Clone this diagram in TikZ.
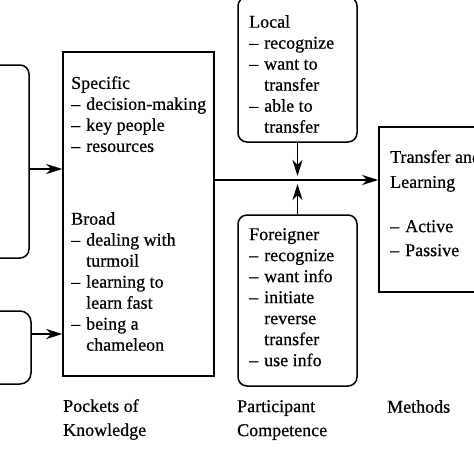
\documentclass[tikz,border=0pt]{standalone}
\usepackage{fontspec}
\setmainfont{Liberation Serif}[UprightFeatures={FakeBold=0.6}]
\usetikzlibrary{arrows.meta}
\newcommand{\dd}{\makebox[15pt][l]{–}}
\newcommand{\ind}{\hspace*{15pt}}
\begin{document}
\begin{tikzpicture}[x=1pt,y=-1pt,
  box/.style={draw,line width=1.5pt,inner sep=0pt},
  rbox/.style={box,rounded corners=9pt},
  txt/.style={anchor=north west,inner sep=0pt,align=left,font=\fontsize{18}{21}\selectfont},
  lab/.style={anchor=north west,inner sep=0pt,align=left,font=\fontsize{18}{24}\selectfont},
  arr/.style={line width=1.5pt,-{Stealth[length=16pt,width=10pt,inset=5pt]}}]
\clip (0,0) rectangle (474,474);
% boxes
\node[rbox,minimum width=60pt,minimum height=193pt] (left1) at (-1,161.5) {};
\node[rbox,minimum width=62pt,minimum height=73pt,rounded corners=11pt] (left2) at (0,347.5) {};
\node[box,minimum width=151pt,minimum height=324pt] (pockets) at (138.5,214) {};
\node[rbox,minimum width=119pt,minimum height=145pt] (local) at (297.5,69.5) {};
\node[rbox,minimum width=119pt,minimum height=171pt] (foreign) at (297.5,300.5) {};
\node[box,minimum width=140pt,minimum height=165pt] (transfer) at (449,209.5) {};
% helper levels
\coordinate (a1) at (0,169);
\coordinate (a2) at (0,334);
\coordinate (a3) at (0,180);
\coordinate (j) at (local.south |- a3);
% texts
\node[txt] (spec) at (71,76) {Specific\\\dd decision-making\\\dd key people\\\dd resources};
\node[txt] (broad) at (71,212) {Broad\\\dd dealing with\\\ind turmoil\\\dd learning to\\\ind learn fast\\\dd being a\\\ind chameleon};
\node[txt] (loctxt) at (249,15) {Local\\\dd recognize\\\dd want to\\\ind transfer\\\dd able to\\\ind transfer};
\node[txt] (fortxt) at (249,228) {Foreigner\\\dd recognize\\\dd want info\\\dd initiate\\\ind reverse\\\ind transfer\\\dd use info};
\node[lab,font=\fontsize{18}{25}\selectfont] (trtxt) at (390,150) {Transfer and\\Learning};
\node[lab] (acttxt) at (390,220) {\dd Active\\\dd Passive};
\node[lab] (l1) at (63,399) {Pockets of\\Knowledge};
\node[lab] (l2) at (237,400) {Participant\\Competence};
\node[lab] (l3) at (387,400) {Methods};
% connectors
\draw[arr] (left1.east |- a1) -- (pockets.west |- a1);
\draw[arr] (left2.east |- a2) -- (pockets.west |- a2);
\draw[arr] (pockets.east |- a3) -- (transfer.west |- a3);
\draw[arr,shorten >=4pt] (local.south) -- (j);
\draw[arr,shorten >=4pt] (foreign.north) -- (j);
\end{tikzpicture}
\end{document}
